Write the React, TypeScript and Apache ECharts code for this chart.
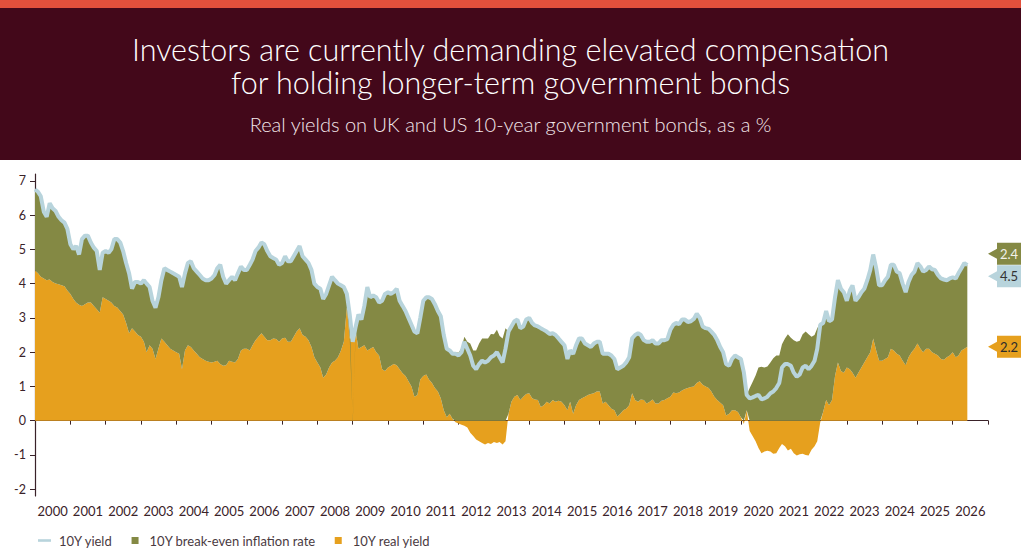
import * as echarts from 'echarts';
import React, { useEffect, useRef } from 'react';

// monthly observations, Jan 2000 onwards (one row per year)
const tenYearYield = [
  6.75, 6.68, 6.55, 6.1, 5.95, 6.35, 6.2, 6.12, 5.95, 5.85, 5.78, 5.6,
  5.15, 5.0, 5.1, 4.85, 5.3, 5.4, 5.4, 5.2, 5.05, 4.95, 4.4, 4.9,
  4.95, 4.9, 5.0, 5.3, 5.3, 5.2, 4.95, 4.6, 4.3, 3.85, 4.05, 4.05,
  4.0, 4.1, 4.0, 3.9, 3.5, 3.3, 3.6, 4.1, 4.45, 4.4, 4.35, 4.3,
  4.25, 4.2, 3.9, 4.3, 4.6, 4.65, 4.45, 4.35, 4.25, 4.15, 4.1, 4.1,
  4.15, 4.25, 4.45, 4.55, 4.2, 4.0, 4.1, 4.2, 4.1, 4.3, 4.5, 4.4,
  4.4, 4.55, 4.7, 4.95, 5.05, 5.2, 5.15, 4.95, 4.8, 4.75, 4.7, 4.55,
  4.6, 4.8, 4.65, 4.65, 4.8, 4.95, 5.1, 4.8, 4.7, 4.6, 4.4, 4.0,
  3.9, 3.85, 3.55, 3.7, 3.95, 4.2, 4.1, 4.0, 3.95, 3.9, 3.7, 3.1,
  2.3, 2.75, 3.1, 2.95, 3.35, 3.9, 3.6, 3.65, 3.6, 3.45, 3.5, 3.7,
  3.75, 3.7, 3.75, 3.85, 3.5, 3.35, 3.2, 3.0, 2.8, 2.6, 2.55, 3.0,
  3.5, 3.6, 3.6, 3.55, 3.4, 3.2, 3.05, 2.5, 2.1, 2.05, 1.95, 1.95,
  1.9, 2.0, 2.3, 2.1, 1.9, 1.6, 1.5, 1.65, 1.75, 1.7, 1.75, 1.85,
  1.9, 2.0, 1.85, 1.7, 2.1, 2.6, 2.75, 2.9, 2.95, 2.7, 2.75, 2.95,
  3.0, 2.85, 2.78, 2.75, 2.7, 2.65, 2.6, 2.53, 2.55, 2.5, 2.4, 2.3,
  2.2, 1.8, 2.05, 1.95, 2.2, 2.4, 2.4, 2.25, 2.2, 2.15, 2.25, 2.3,
  2.3, 1.95, 1.95, 1.95, 1.9, 1.8, 1.5, 1.55, 1.6, 1.7, 1.85, 2.4,
  2.5, 2.55, 2.5, 2.35, 2.3, 2.3, 2.35, 2.25, 2.25, 2.35, 2.35, 2.38,
  2.65, 2.8, 2.85, 2.82, 2.95, 2.95, 2.88, 2.9, 2.97, 3.12, 3.0, 2.75,
  2.7, 2.68, 2.6, 2.5, 2.35, 2.15, 2.0, 1.65, 1.6, 1.8, 1.9, 1.85,
  1.8, 1.4, 0.75, 0.65, 0.68, 0.72, 0.75, 0.62, 0.65, 0.7, 0.8, 0.85,
  0.95, 1.1, 1.55, 1.65, 1.65, 1.6, 1.4, 1.28, 1.35, 1.55, 1.6, 1.5,
  1.6, 1.75, 2.1, 2.8, 2.85, 3.2, 2.9, 2.95, 3.6, 4.1, 3.85, 3.75,
  3.5, 3.8, 3.95, 3.5, 3.6, 3.75, 3.85, 4.1, 4.4, 4.85, 4.45, 3.95,
  3.95, 4.1, 4.2, 4.55, 4.55, 4.35, 4.3, 4.0, 3.75, 4.05, 4.25, 4.35,
  4.6, 4.5, 4.35, 4.4, 4.5, 4.42, 4.4, 4.25, 4.15, 4.12, 4.1, 4.15,
  4.18, 4.15, 4.3, 4.45, 4.6, 4.54,
];

const realYield = [
  4.38, 4.3, 4.2, 4.15, 4.1, 4.12, 4.05, 4.0, 3.98, 3.95, 3.92, 3.8,
  3.7, 3.55, 3.45, 3.38, 3.35, 3.4, 3.45, 3.45, 3.35, 3.25, 3.15, 3.6,
  3.55, 3.5, 3.45, 3.35, 3.3, 3.2, 3.1, 2.85, 2.55, 2.7, 2.6, 2.5,
  2.45, 2.3, 2.0, 2.2, 2.1, 1.8, 2.1, 2.4, 2.3, 2.2, 2.1, 2.05,
  2.0, 1.95, 1.5, 2.05, 2.2, 2.15, 2.05, 1.95, 1.85, 1.8, 1.75, 1.72,
  1.7, 1.72, 1.75, 1.65, 1.6, 1.62, 1.75, 1.72, 1.7, 1.8, 2.05, 2.1,
  2.1, 2.05, 2.2, 2.35, 2.45, 2.55, 2.45, 2.35, 2.35, 2.4, 2.38, 2.3,
  2.4, 2.42, 2.3, 2.3, 2.45, 2.6, 2.7, 2.5, 2.45, 2.35, 2.15, 1.85,
  1.7, 1.55, 1.25, 1.35, 1.55, 1.7, 1.75, 1.85, 2.05, 2.3, 3.3, 2.4,
  2.4, 2.6, 2.1, 2.15, 2.2, 2.05, 2.1, 2.15, 2.0, 1.9, 1.5, 1.45,
  1.55, 1.6, 1.65, 1.62, 1.5, 1.38, 1.3, 1.15, 1.0, 0.7, 0.75, 1.2,
  1.3, 1.35, 1.2, 1.1, 0.95, 0.85, 0.65, 0.3, 0.1, 0.2, 0.05, -0.05,
  -0.08, -0.12, -0.15, -0.2, -0.35, -0.45, -0.55, -0.6, -0.65, -0.7, -0.65, -0.68,
  -0.62, -0.65, -0.62, -0.7, -0.6, 0.2, 0.55, 0.7, 0.75, 0.6, 0.7, 0.78,
  0.8, 0.65, 0.62, 0.6, 0.4, 0.45, 0.55, 0.5, 0.6, 0.55, 0.58, 0.55,
  0.45, 0.3, 0.55, 0.2, 0.45, 0.6, 0.65, 0.7, 0.75, 0.78, 0.8, 0.85,
  0.85, 0.5, 0.55, 0.45, 0.35, 0.3, 0.12, 0.2, 0.3, 0.35, 0.45, 0.8,
  0.6, 0.55, 0.62, 0.6, 0.5, 0.55, 0.62, 0.5, 0.5, 0.58, 0.6, 0.65,
  0.7, 0.82, 0.8, 0.82, 0.88, 0.92, 0.95, 0.98, 1.0, 1.1, 1.15, 1.05,
  1.0, 0.95, 0.85, 0.7, 0.6, 0.52, 0.45, 0.15, 0.2, 0.3, 0.3, 0.25,
  0.1, -0.1, 0.3, -0.3, -0.45, -0.6, -0.8, -0.95, -0.9, -0.88, -0.9, -0.97,
  -0.95, -0.8, -0.68, -0.75, -0.87, -0.82, -0.95, -1.02, -0.98, -0.97, -1.0, -1.02,
  -0.85, -0.75, -0.6, -0.05, 0.25, 0.6, 0.45, 0.6, 1.3, 1.7, 1.45, 1.4,
  1.55, 1.5, 1.4, 1.25, 1.4, 1.55, 1.7, 1.85, 2.0, 2.4, 2.05, 1.75,
  1.75, 1.8, 1.85, 2.1, 2.05, 1.95, 1.9, 1.75, 1.62, 1.85, 2.0, 2.1,
  2.25, 2.1, 2.0, 2.1, 2.1, 2.0, 1.95, 1.9, 1.8, 1.78, 1.85, 1.9,
  2.0, 1.85, 1.9, 2.05, 2.1, 2.16,
];

const yearLabels = [
  '2000', '2001', '2002', '2003', '2004', '2005', '2006', '2007', '2008',
  '2009', '2010', '2011', '2012', '2013', '2014', '2015', '2016', '2017',
  '2018', '2019', '2020', '2021', '2022', '2023', '2024', '2025', '2026',
];
const yTicks = [-2, -1, 0, 1, 2, 3, 4, 5, 6, 7];

const FIRST_YEAR = 2000;
const LAST_YEAR = 2027;

const ORANGE = '#e6a01e';
const GREEN = '#848944';
const BLUE = '#b8d4dc';
const MAROON = '#43081a';
const CORAL = '#e2503c';
const INK = '#3a2229';
const FONT = 'Lato, "Noto Sans", sans-serif';

const monthDates = tenYearYield.map((_, i) => Date.UTC(FIRST_YEAR + Math.floor(i / 12), i % 12, 1));
const breakeven = tenYearYield.map((v, i) => Math.round((v - realYield[i]) * 100) / 100);

export default function App(): React.ReactElement {
  const containerRef = useRef<HTMLDivElement>(null);

  useEffect(() => {
    if (!containerRef.current) {
      return;
    }
    const chart = echarts.init(containerRef.current, null, { renderer: 'svg' });

    const header = [
      { id: 'band', type: 'rect', shape: { x: 0, y: 0, width: 1021, height: 8 }, style: { fill: CORAL }, z: 0 },
      { id: 'head', type: 'rect', shape: { x: 0, y: 8, width: 1021, height: 152 }, style: { fill: MAROON }, z: 0 },
    ];

    chart.setOption({
      animation: false,
      backgroundColor: '#ffffff',
      textStyle: { fontFamily: FONT },
      title: {
        text: 'Investors are currently demanding elevated compensation\nfor holding longer-term government bonds',
        subtext: 'Real yields on UK and US 10-year government bonds, as a %',
        left: 'center',
        top: 27,
        itemGap: 15,
        textStyle: { color: '#ffffff', fontSize: 30.5, lineHeight: 33, fontWeight: 300, fontFamily: FONT },
        subtextStyle: { color: '#f4e9ec', fontSize: 20, lineHeight: 22, fontWeight: 300, fontFamily: FONT },
      },
      graphic: header,
      legend: {
        left: 33,
        top: 529,
        itemWidth: 13,
        itemHeight: 7,
        itemGap: 19,
        textStyle: { color: '#4a3a3f', fontSize: 13, fontFamily: FONT, padding: [0, 0, 0, 3] },
        data: [
          { name: '10Y yield', icon: 'path://M0,0h13v2.6h-13z' },
          { name: '10Y break-even inflation rate', icon: 'path://M0,0h10v10h-10z' },
          { name: '10Y real yield', icon: 'path://M0,0h10v10h-10z' },
        ],
      },
      grid: { left: 35, right: 33, top: 174, bottom: 57 },
      xAxis: [
        {
          type: 'category',
          data: yearLabels,
          boundaryGap: true,
          axisLine: { lineStyle: { color: INK, width: 1.2 } },
          axisTick: { show: true, length: 4, lineStyle: { color: INK } },
          axisLabel: { color: INK, fontSize: 13, margin: 8, interval: 0, fontFamily: FONT },
          splitLine: { show: false },
        },
        {
          type: 'time',
          min: Date.UTC(FIRST_YEAR, 0, 1),
          max: Date.UTC(LAST_YEAR, 0, 1),
          show: false,
        },
      ],
      yAxis: {
        type: 'value',
        min: -2.2,
        max: 7.2,
        axisLine: { show: true, lineStyle: { color: INK, width: 1.2 } },
        axisTick: { show: true, length: 5, lineStyle: { color: INK }, customValues: yTicks },
        axisLabel: { color: INK, fontSize: 12.5, margin: 9, customValues: yTicks, fontFamily: FONT },
        splitLine: { show: false },
      },
      series: [
        {
          name: '10Y real yield',
          type: 'line',
          xAxisIndex: 1,
          stack: 'total',
          data: realYield.map((v, i) => [monthDates[i], v]),
          symbol: 'none',
          color: ORANGE,
          lineStyle: { width: 0 },
          areaStyle: { color: ORANGE, opacity: 1 },
          z: 2,
        },
        {
          name: '10Y break-even inflation rate',
          type: 'line',
          xAxisIndex: 1,
          stack: 'total',
          data: breakeven.map((v, i) => [monthDates[i], v]),
          symbol: 'none',
          color: GREEN,
          lineStyle: { width: 0 },
          areaStyle: { color: GREEN, opacity: 1 },
          z: 2,
        },
        {
          name: '10Y yield',
          type: 'line',
          xAxisIndex: 1,
          data: tenYearYield.map((v, i) => [monthDates[i], v]),
          symbol: 'none',
          color: BLUE,
          lineStyle: { width: 4, color: BLUE },
          z: 3,
        },
      ],
    });

    // end-of-series value tags, pushed apart when they overlap
    const last = tenYearYield.length - 1;
    const tagX = chart.convertToPixel({ xAxisIndex: 1 }, Date.UTC(LAST_YEAR, 0, 1)) as number;
    const tags = [
      { value: breakeven[last], anchor: tenYearYield[last], fill: GREEN, text: '#f2f2ea' },
      { value: tenYearYield[last], anchor: tenYearYield[last], fill: BLUE, text: '#333333' },
      { value: realYield[last], anchor: realYield[last], fill: ORANGE, text: '#2b2b2b' },
    ].map((t, order) => ({ ...t, order, y: chart.convertToPixel({ yAxisIndex: 0 }, t.anchor) as number }));

    const gap = 22.5;
    const placed = [...tags].sort((a, b) => a.y - b.y || a.order - b.order);
    for (let pass = 0; pass < 10; pass++) {
      for (let i = 1; i < placed.length; i++) {
        const overlap = placed[i - 1].y + gap - placed[i].y;
        if (overlap > 0) {
          placed[i - 1].y -= overlap / 2;
          placed[i].y += overlap / 2;
        }
      }
    }

    const tagGraphics = placed.map((t, i) => ({
      id: `tag-${i}`,
      type: 'group',
      x: tagX,
      y: t.y,
      z: 10,
      children: [
        {
          type: 'polygon',
          shape: { points: [[0, 0], [9, -5], [9, -11], [45, -11], [45, 11], [9, 11], [9, 5]] },
          style: { fill: t.fill },
        },
        {
          type: 'text',
          x: 21,
          y: 0,
          style: {
            text: t.value.toFixed(1),
            fill: t.text,
            font: `13px ${FONT}`,
            align: 'center',
            verticalAlign: 'middle',
          },
        },
      ],
    }));

    chart.setOption({ graphic: [...header, ...tagGraphics] });

    return () => {
      chart.dispose();
    };
  }, []);

  return (
    <div
      ref={containerRef}
      style={{ position: 'absolute', left: 0, top: 0, width: 1021, height: 553, background: '#ffffff' }}
    />
  );
}
